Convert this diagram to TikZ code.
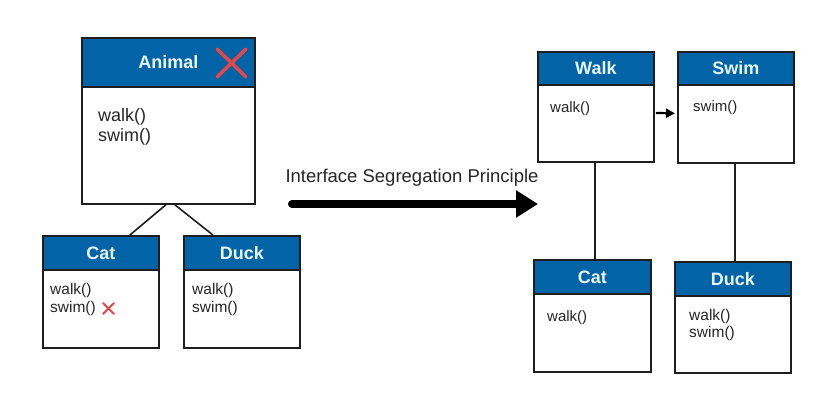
\documentclass[tikz,border=0pt]{standalone}
\usepackage{fontspec}
\setmainfont{Liberation Sans}
\usetikzlibrary{arrows.meta,calc}
\definecolor{hdrblue}{RGB}{2,99,166}
\definecolor{bord}{RGB}{30,30,30}
\definecolor{ttl}{RGB}{232,246,255}
\definecolor{xred}{RGB}{232,70,70}
\tikzset{
  hdr/.style={draw=bord, fill=hdrblue, line width=1.8pt, anchor=north west, inner sep=0pt,
    text=ttl, font=\bfseries\fontsize{18}{18}\selectfont},
  bdy/.style={draw=bord, fill=white, line width=1.8pt, anchor=north west, inner sep=0pt},
  meth/.style={anchor=west, inner sep=0pt, align=left, text=black!85},
  conn/.style={draw=bord, line width=1.6pt},
  redx/.style={draw=xred, line cap=round},
}
\newcommand\umlclass[7]{%
  \node[bdy, minimum width=#4, minimum height=#6] (#1b) at (#2,#3+#5) {};
  \node[hdr, minimum width=#4, minimum height=#5] (#1h) at (#2,#3) {#7};
}
\begin{document}
\begin{tikzpicture}[x=1pt,y=-1pt]
\useasboundingbox (0,0) rectangle (830,400);
% left side
\umlclass{animal}{81}{37}{173}{49}{117}{Animal}
\umlclass{catL}{42}{235}{116}{34}{78}{Cat}
\umlclass{duckL}{183}{235}{116}{34}{78}{Duck}
\node[meth, font=\fontsize{18}{20}\selectfont] (animalm) at (98,127) {walk()\\swim()};
\node[meth, font=\fontsize{15.5}{18}\selectfont] (catLm) at (50,299) {walk()\\swim()};
\node[meth, font=\fontsize{15.5}{18}\selectfont] (duckLm) at (192,299) {walk()\\swim()};
\draw[conn] ($(animalb.south)+(-2.5,0)$) -- ($(catLh.north)+(29,0)$);
\draw[conn] ($(animalb.south)+(6.5,0)$) -- ($(duckLh.north)+(-29,0)$);
% red crosses
\coordinate (ax1) at (217,49);
\coordinate (ax2) at (246,77);
\coordinate (ax3) at (246,49);
\coordinate (ax4) at (217,77);
\draw[redx, line width=3.5pt] (ax1) -- (ax2);
\draw[redx, line width=3.5pt] (ax3) -- (ax4);
\coordinate (cx1) at (103,303);
\coordinate (cx2) at (114,314);
\coordinate (cx3) at (114,303);
\coordinate (cx4) at (103,314);
\draw[redx, line width=1.8pt] (cx1) -- (cx2);
\draw[redx, line width=1.8pt] (cx3) -- (cx4);
% big arrow
\coordinate (bs) at (292,204);
\coordinate (be) at (538,204);
\draw[line width=8pt, line cap=round, -{Triangle[length=22pt,width=26pt]}] (bs) -- (be);
\node[font=\fontsize{18.5}{20}\selectfont, text=black!85] (lbl) at (412,178) {Interface Segregation Principle};
% right side
\umlclass{walk}{537}{51}{116}{33}{77}{Walk}
\umlclass{swim}{677}{51}{116}{33}{78}{Swim}
\umlclass{catR}{533}{259}{117}{34}{78}{Cat}
\umlclass{duckR}{674}{261}{116}{34}{77}{Duck}
\node[meth, font=\fontsize{15}{17}\selectfont] (walkm) at (550,109) {walk()};
\node[meth, font=\fontsize{15}{17}\selectfont] (swimm) at (693,108) {swim()};
\node[meth, font=\fontsize{15}{17}\selectfont] (catRm) at (547,318) {walk()};
\node[meth, font=\fontsize{15.5}{17}\selectfont] (duckRm) at (689,324.5) {walk()\\swim()};
\coordinate (wl) at ($(walkb.south)+(-1,0)$);
\coordinate (sl) at ($(swimb.south)+(-1,0)$);
\draw[conn] (wl) -- (wl |- catRh.north);
\draw[conn] (sl) -- (sl |- duckRh.north);
\coordinate (ar1) at ($(walkb.east)+(1,-10.5)$);
\coordinate (ar2) at ($(swimb.west)+(-2,-10.5)$);
\draw[line width=2.2pt, -{Triangle[length=9pt,width=9pt]}] (ar1) -- (ar2);
\end{tikzpicture}
\end{document}
